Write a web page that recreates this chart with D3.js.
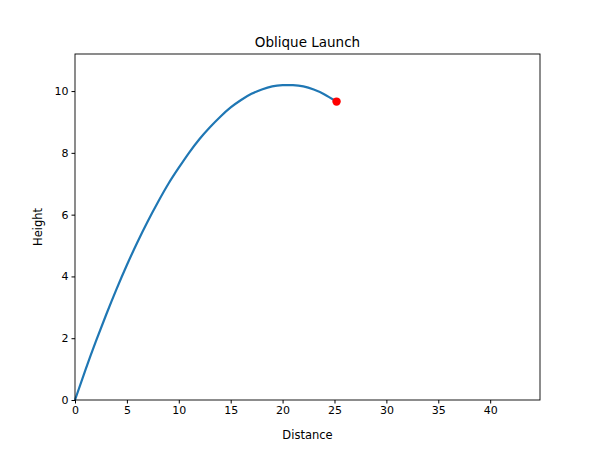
<!DOCTYPE html>
<html><head><meta charset="utf-8">
<script src="https://cdn.jsdelivr.net/npm/d3@7"></script>
<style>body{margin:0;background:#fff}text{font-family:"DejaVu Sans",sans-serif}</style>
</head><body><svg id="c" width="600" height="450"></svg>
<script>
const distance = [0,1,2,3,4,5,6,7,8,9,10,11,12,13,14,15,16,17,18,19,20,21,22,23,24,25.2];
const height =   [0,0.97,1.89,2.76,3.59,4.37,5.10,5.78,6.41,7.00,7.52,8.01,8.45,8.83,9.17,9.47,9.71,9.91,10.05,10.15,10.19,10.19,10.15,10.05,9.90,9.66];
const xTicks = [0,5,10,15,20,25,30,35,40];
const yTicks = [0,2,4,6,8,10];
const svg = d3.select("#c");
const L=75,R=540,T=54,B=400;
const x = d3.scaleLinear().domain([0,44.8]).range([L,R]);
const y = d3.scaleLinear().domain([0,11.2]).range([B,T]);
svg.append("g").attr("transform",`translate(0,${B})`).call(d3.axisBottom(x).tickValues(xTicks).tickSize(3.5).tickPadding(3))
  .call(g=>g.select(".domain").remove()).selectAll("text").attr("font-size",11).attr("fill","#000");
svg.append("g").attr("transform",`translate(${L},0)`).call(d3.axisLeft(y).tickValues(yTicks).tickSize(3.5).tickPadding(3))
  .call(g=>g.select(".domain").remove()).selectAll("text").attr("font-size",11).attr("fill","#000");
svg.append("path").datum(distance.map((d,i)=>[d,height[i]]))
  .attr("d",d3.line().x(d=>x(d[0])).y(d=>y(d[1])).curve(d3.curveNatural))
  .attr("fill","none").attr("stroke","#1f77b4").attr("stroke-width",2.2);
const n=distance.length-1;
svg.append("circle").attr("cx",x(distance[n])).attr("cy",y(height[n])).attr("r",4.2).attr("fill","red");
svg.append("rect").attr("x",L).attr("y",T).attr("width",R-L).attr("height",B-T).attr("fill","none").attr("stroke","#000").attr("stroke-width",0.9);
svg.append("text").attr("x",(L+R)/2).attr("y",T-7).attr("text-anchor","middle").attr("font-size",13.5).text("Oblique Launch");
svg.append("text").attr("x",(L+R)/2).attr("y",439).attr("text-anchor","middle").attr("font-size",11.5).text("Distance");
svg.append("text").attr("transform",`translate(42,${(T+B)/2}) rotate(-90)`).attr("text-anchor","middle").attr("font-size",11.5).text("Height");
</script></body></html>
